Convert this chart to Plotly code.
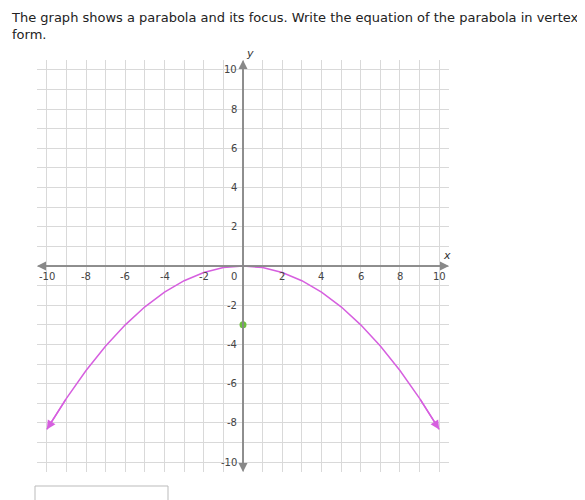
import plotly.graph_objects as go

xs = [-10, -9, -8, -7, -6, -5, -4, -3, -2, -1, 0, 1, 2, 3, 4, 5, 6, 7, 8, 9, 10]
ys = [-8.33, -6.75, -5.33, -4.08, -3, -2.08, -1.33, -0.75, -0.33, -0.08, 0,
      -0.08, -0.33, -0.75, -1.33, -2.08, -3, -4.08, -5.33, -6.75, -8.33]
focus = (0, -3)
tick_vals = [-10, -8, -6, -4, -2, 2, 4, 6, 8, 10]
question = "The graph shows a parabola and its focus. Write the equation of the parabola in vertex<br>form."

L, T, W, H = 29, 52, 412, 412
fig = go.Figure()
fig.add_trace(go.Scatter(x=xs, y=ys, mode="lines", line=dict(color="#d65fdf", width=1.5), hoverinfo="skip"))
fig.add_trace(go.Scatter(x=[focus[0]], y=[focus[1]], mode="markers", marker=dict(color="#6cbf3c", size=7), hoverinfo="skip"))

grid = "#d9d9d9"
ax = dict(range=[-10.5, 10.5], showgrid=True, gridcolor=grid, gridwidth=1, dtick=1, tick0=0,
          zeroline=False, showticklabels=False, ticks="", fixedrange=True)
fig.update_layout(width=585, height=500,
                  margin=dict(l=L, r=585 - L - W, t=T, b=500 - T - H, autoexpand=False),
                  paper_bgcolor="white", plot_bgcolor="white", showlegend=False,
                  xaxis=ax, yaxis=dict(ax), font=dict(family="DejaVu Sans", color="#333"))

axc = "#888"
anns = []
def arrow(x, y, ax_, ay_, color, w=1.5):
    anns.append(dict(x=x, y=y, ax=ax_, ay=ay_, xref="x", yref="y", axref="x", ayref="y",
                     showarrow=True, arrowhead=2, arrowsize=1.2, arrowwidth=w, arrowcolor=color, text=""))
arrow(-10.5, 0, 10.5, 0, axc); arrow(10.5, 0, -10.5, 0, axc)
arrow(0, 10.5, 0, -10.5, axc); arrow(0, -10.5, 0, 10.5, axc)
arrow(xs[0], ys[0], xs[1], ys[1], "#d65fdf"); arrow(xs[-1], ys[-1], xs[-2], ys[-2], "#d65fdf")

for v in tick_vals:
    anns.append(dict(x=v, y=0, xref="x", yref="y", text=str(v), showarrow=False,
                     yshift=-10, xanchor="center", font=dict(size=10, color="#444")))
    anns.append(dict(x=0, y=v, xref="x", yref="y", text=str(v), showarrow=False,
                     xshift=-4, xanchor="right", font=dict(size=10, color="#444")))
anns.append(dict(x=0, y=0, xref="x", yref="y", text="0", showarrow=False, xshift=-9, yshift=-10,
                 font=dict(size=10, color="#444")))
anns.append(dict(x=10.4, y=0, xref="x", yref="y", text="<i>x</i>", showarrow=False, yshift=11,
                 font=dict(size=11, color="#333")))
anns.append(dict(x=0, y=10.4, xref="x", yref="y", text="<i>y</i>", showarrow=False, xshift=7, yshift=8,
                 font=dict(size=11, color="#333")))
anns.append(dict(x=-(L - 1) / W, y=1 + T / H, xref="paper", yref="paper", text=question,
                 showarrow=False, xanchor="left", yanchor="top", align="left",
                 font=dict(size=13, color="#222")))
fig.update_layout(annotations=anns)
fig.add_shape(type="rect", xref="paper", yref="paper", x0=(27 - L) / W, x1=(160 - L) / W,
              y0=(T + H - 498) / H, y1=(T + H - 478) / H, line=dict(color="#bbb", width=1),
              fillcolor="white")
fig.write_html("out.html")
